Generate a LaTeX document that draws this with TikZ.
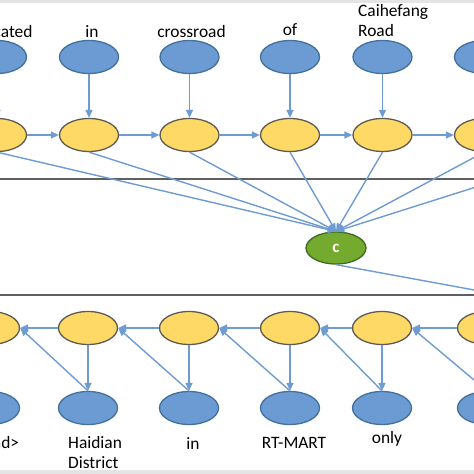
\documentclass[tikz,border=0pt]{standalone}
\usepackage{fontspec}
\setmainfont{Carlito}
\usetikzlibrary{shapes.geometric,arrows.meta}

\definecolor{wordblue}{HTML}{6B9BD2}
\definecolor{wordedge}{HTML}{41719C}
\definecolor{stateyellow}{HTML}{FFD966}
\definecolor{stateedge}{HTML}{5C5C52}
\definecolor{ctxgreen}{HTML}{74AA2E}
\definecolor{ctxedge}{HTML}{3E6B22}
\definecolor{linkblue}{HTML}{6F9BD3}
\definecolor{rulegray}{HTML}{5F5F5F}
\definecolor{framegray}{HTML}{E4E4E4}

\begin{document}
\begin{tikzpicture}[x=1pt,y=-1pt]
    \tikzset{
        word/.style={ellipse, draw=wordedge, fill=wordblue, line width=1.3pt,
            minimum width=59pt, minimum height=33pt, inner sep=0pt},
        state/.style={ellipse, draw=stateedge, fill=stateyellow, line width=1.3pt,
            minimum width=59pt, minimum height=33pt, inner sep=0pt},
        ctx/.style={ellipse, draw=ctxedge, fill=ctxgreen, line width=1.3pt,
            minimum width=60pt, minimum height=32pt, inner sep=0pt,
            text=white!92!yellow, font=\fontsize{17}{20}\selectfont\bfseries},
        link/.style={draw=linkblue, line width=1.4pt,
            -{Triangle[length=8pt,width=7pt]}},
        tag/.style={font=\fontsize{17.4}{20.5}\selectfont, inner sep=0pt, anchor=base},
    }
    \useasboundingbox (0,0) rectangle (474,474);
    \clip (0,0) rectangle (474,474);

    % Frame
    \fill[framegray] (0,0) rectangle (474,3);
    \fill[framegray] (0,470) rectangle (474,474);
    \draw[rulegray, line width=1.3pt] (0,179) -- (474,179);
    \draw[rulegray, line width=1.3pt] (0,295) -- (474,295);

    % Encoder
    \foreach \n/\x in {1/-3,2/89,3/189.5,4/290,5/382.5,6/484,7/586} {
        \node[word]  (x\n) at (\x,57)  {};
        \node[state] (h\n) at (\x,135) {};
    }
    \node[ctx] (c) at (336,248) {c};

    % Decoder
    \foreach \n/\x in {1/-10,2/88,3/189,4/290,5/382,6/487,7/588} {
        \node[state] (s\n) at (\x,328) {};
        \node[word]  (y\n) at (\x,408) {};
    }

    % Words
    \node[tag] (lx1) at (6.5,37) {located};
    \node[tag] (lx2) at (92,37) {in};
    \node[tag] (lx3) at (191.5,37) {crossroad};
    \node[tag] (lx4) at (290,35) {of};
    \node[tag, anchor=north west, align=left] (lx5) at (358,4) {Caihefang\\Road};
    \node[tag] (ly1) at (-3,448) {<end>};
    \node[tag, anchor=north west, align=left] (ly2) at (68,436) {Haidian\\District};
    \node[tag] (ly3) at (193,449) {in};
    \node[tag] (ly4) at (294,448) {RT-MART};
    \node[tag] (ly5) at (387,443) {only};

    % Arcs
    \foreach \n in {1,...,7} {
        \draw[link] (x\n.south) -- (h\n.north);
        \draw[link] (h\n.south) -- (c.north);
        \draw[link] (s\n.south) -- (y\n.north);
    }
    \foreach \a/\b in {1/2,2/3,3/4,4/5,5/6,6/7} {
        \draw[link] (h\a.east) -- (h\b.west);
        \draw[link] (s\b.west) -- (s\a.east);
        \draw[link] (y\b.north) -- (s\a.east);
    }
    \draw[link] (c.south) -- (s7.north);

\end{tikzpicture}
\end{document}
